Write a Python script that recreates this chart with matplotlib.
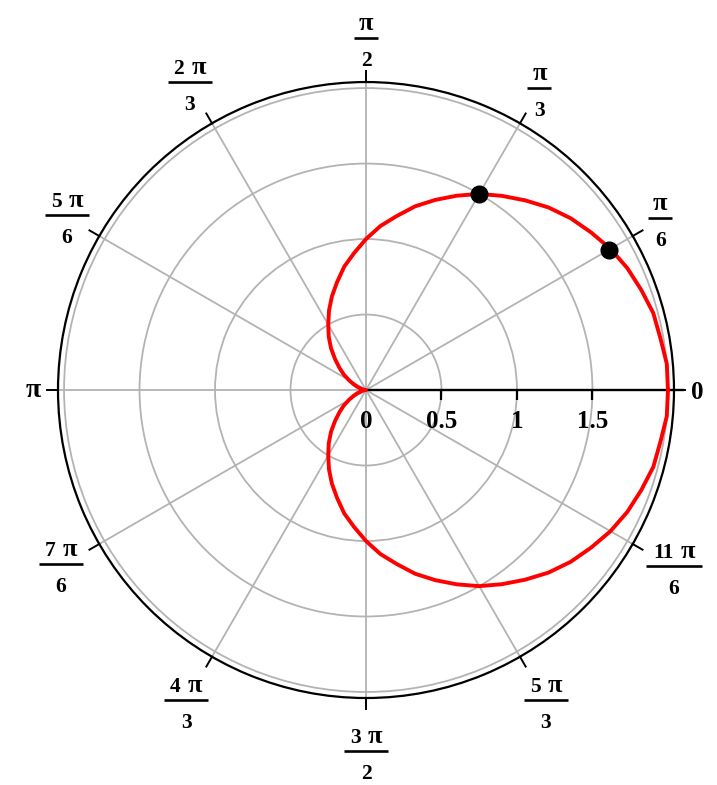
import numpy as np
import matplotlib
matplotlib.use('Agg')
import matplotlib.pyplot as plt
from matplotlib.transforms import ScaledTranslation

# cardioid, r every 5 degrees
theta_deg = list(range(0, 365, 5))
r_vals = [2.00, 2.00, 1.98, 1.97, 1.94, 1.91, 1.87, 1.82, 1.77, 1.71, 1.64, 1.57,
          1.50, 1.42, 1.34, 1.26, 1.17, 1.09, 1.00, 0.91, 0.83, 0.74, 0.66, 0.58,
          0.50, 0.43, 0.36, 0.29, 0.23, 0.18, 0.13, 0.09, 0.06, 0.03, 0.02, 0.00,
          0.00,
          0.00, 0.02, 0.03, 0.06, 0.09, 0.13, 0.18, 0.23, 0.29, 0.36, 0.43, 0.50,
          0.58, 0.66, 0.74, 0.83, 0.91, 1.00, 1.09, 1.17, 1.26, 1.34, 1.42, 1.50,
          1.57, 1.64, 1.71, 1.77, 1.82, 1.87, 1.91, 1.94, 1.97, 1.98, 2.00, 2.00]

# the two marked points
dot_deg = [60, 30]
dot_r = [1.50, 1.86]

# angle labels (multiple of pi / denominator), every 30 degrees
label_deg = [0, 30, 60, 90, 120, 150, 180, 210, 240, 270, 300, 330]
label_mult = ['0', '', '', '', '2', '5', '', '7', '4', '3', '5', '11']
label_den = ['', '6', '3', '2', '3', '6', '', '6', '3', '2', '3', '6']

r_ticks = [0.5, 1, 1.5, 2]
r_labels = ['0', '0.5', '1', '1.5']
r_label_pos = [0, 0.5, 1, 1.5]

FONT = ['Liberation Serif', 'DejaVu Serif']
DPI = 100
RMAX = 2.04
PX = 308 / RMAX  # pixels per data unit

fig = plt.figure(figsize=(7.17, 7.85), dpi=DPI)
ax = fig.add_axes([0.0809, 0.1108, 0.8591, 0.7847], projection='polar')
ax.set_ylim(0, RMAX)
ax.set_xticks(np.deg2rad(label_deg))
ax.set_xticklabels([])
ax.set_yticks(r_ticks)
ax.set_yticklabels([])
ax.grid(True, color='#b3b3b3', lw=1.3)
ax.spines['polar'].set_color('black')
ax.spines['polar'].set_linewidth(1.6)
ax.tick_params(axis='both', length=0)

# outer tick marks on the circle
for deg in label_deg:
    ax.plot([np.deg2rad(deg)] * 2, [RMAX, RMAX + 0.075], color='black', lw=1.4,
            clip_on=False, zorder=2.5)

# black radial axis with ticks
ax.plot([0, 0], [0, 2.1], color='black', lw=1.7, clip_on=False, zorder=2.5)
ax.plot(np.zeros(len(r_ticks)), r_ticks, ls='none', marker=3, ms=7, mew=1.6,
        color='black', clip_on=False, zorder=2.5)
for r, s in zip(r_label_pos, r_labels):
    ax.annotate(s, (0, r), xytext=(0, -38), textcoords='offset pixels', ha='center',
                va='baseline', fontsize=18, fontweight='bold', family=FONT)

# curve and points
ax.plot(np.deg2rad(theta_deg), r_vals, color='red', lw=2.8, zorder=3)
ax.plot(np.deg2rad(dot_deg), dot_r, ls='none', marker='o', ms=12, color='black', zorder=4)

renderer = fig.canvas.get_renderer()


def text_width(s, size):
    t = fig.text(0, 0, s, fontsize=size, fontweight='bold', family=FONT)
    w = t.get_window_extent(renderer).width
    t.remove()
    return w


def put(s, th, rd, dx, dy, size, ha='center'):
    ax.annotate(s, (th, rd), xytext=(dx, dy), textcoords='offset pixels', ha=ha,
                va='baseline', fontsize=size, fontweight='bold', family=FONT,
                annotation_clip=False)


# angle labels as stacked fractions
FS = 15.5
PI_FS = 19
gap = 7
pi_w = text_width('π', PI_FS)
for deg, mult, den in zip(label_deg, label_mult, label_den):
    th = np.deg2rad(deg)
    s = np.sin(th)
    if not den:
        if mult:
            put(mult, th, 331 / PX, 0, -9, 18)
        else:
            put('π', th, 333 / PX, 0, -7, 20)
        continue
    mw = text_width(mult, FS) if mult else 0
    tw = mw + (gap if mult else 0) + pi_w
    w = tw * 1.1 + 9
    R = 330 + 20 * abs(s) + 0.3 * (w - 26) + (7 if s < -0.1 else 0)
    rd = R / PX
    x0 = -tw / 2
    if mult:
        put(mult, th, rd, x0, 10, FS, ha='left')
    put('π', th, rd, x0 + tw - pi_w, 10, PI_FS, ha='left')
    put(den, th, rd, 0, -26, FS)
    shift = ScaledTranslation(0, 2 / DPI, fig.dpi_scale_trans)
    ax.plot([th], [rd], marker='_', ms=w * 72 / DPI, mew=1.9, color='black',
            clip_on=False, transform=ax.transData + shift)

fig.savefig('out.png', dpi=DPI)
